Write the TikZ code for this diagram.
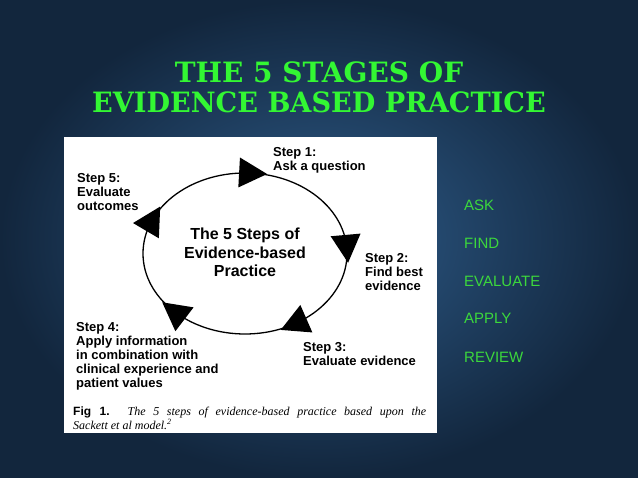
\documentclass[tikz,border=0pt]{standalone}
\usepackage{fontspec}
\setmainfont{Liberation Serif}
\newfontfamily\arialfont{Liberation Sans}
\newfontfamily\titlefont{DejaVu Serif}
\usetikzlibrary{calc}
\definecolor{bgin}{HTML}{2E5C8A}
\definecolor{bgout}{HTML}{12263D}
\definecolor{titlegreen}{HTML}{33F733}
\definecolor{listgreen}{HTML}{3CD83C}
\begin{document}
\begin{tikzpicture}[x=1pt,y=-1pt,
  steplabel/.style={font=\arialfont\bfseries\fontsize{13}{14}\selectfont, align=left, anchor=north west, inner sep=0pt, text=black},
  centerlabel/.style={font=\arialfont\bfseries\fontsize{16}{18.5}\selectfont, align=center, inner sep=0pt, text=black},
  listitem/.style={font=\arialfont\fontsize{15}{17}\selectfont, anchor=west, inner sep=0pt, text=listgreen},
  titletext/.style={font=\titlefont\bfseries\fontsize{28}{30}\selectfont, align=center, inner sep=0pt}
]
\useasboundingbox (0,0) rectangle (638,478);
\shade[inner color=bgin, outer color=bgout] (0,0) rectangle (638,478);

% title
\node[titletext, text=titlegreen] (title) at (319,87.5) {THE 5 STAGES OF\\\scalebox{0.97}[1]{EVIDENCE BASED PRACTICE}};

% white figure panel
\fill[white] (64,137) rectangle (437,433);

% cycle
\draw[line width=1.3pt] (245,253.5) ellipse [x radius=102pt, y radius=80.5pt];
\foreach \t in {-86,-4,61,134,205}{
  \pgfmathsetmacro\px{245+102*cos(\t)}
  \pgfmathsetmacro\py{253.5+80.5*sin(\t)}
  \pgfmathsetmacro\dx{-102*sin(\t)}
  \pgfmathsetmacro\dy{80.5*cos(\t)}
  \pgfmathsetmacro\len{sqrt(\dx*\dx+\dy*\dy)}
  \pgfmathsetmacro\ux{\dx/\len}
  \pgfmathsetmacro\uy{\dy/\len}
  \fill ({\px+15*\ux},{\py+15*\uy}) -- ({\px-13*\ux-15*\uy},{\py-13*\uy+15*\ux}) -- ({\px-13*\ux+15*\uy},{\py-13*\uy-15*\ux}) -- cycle;
}

\node[centerlabel] (center) at (245,252.5) {The 5 Steps of\\Evidence-based\\Practice};

\node[steplabel] (s1) at (273,147.5) {Step 1:\\Ask a question};
\node[steplabel] (s5) at (77,173.5) {Step 5:\\Evaluate\\outcomes};
\node[steplabel] (s2) at (365,253.5) {Step 2:\\Find best\\evidence};
\node[steplabel] (s3) at (303,342.5) {Step 3:\\Evaluate evidence};
\node[steplabel] (s4) at (76,322.5) {Step 4:\\Apply information\\in combination with\\clinical experience and\\patient values};

\node[anchor=north west, inner sep=0pt, align=left, font=\fontsize{12}{11.5}\selectfont] (caption) at (73,407) {\makebox[353pt][s]{{\arialfont\bfseries Fig 1.} \itshape The 5 steps of evidence-based practice based upon the}\\\itshape Sackett et al model.\textsuperscript{2}};

% list
\node[listitem] (ask) at (464,205) {ASK};
\node[listitem] (find) at (464,243) {FIND};
\node[listitem] (evaluate) at (464,281) {EVALUATE};
\node[listitem] (apply) at (464,318) {APPLY};
\node[listitem] (review) at (464,357) {REVIEW};
\end{tikzpicture}
\end{document}
